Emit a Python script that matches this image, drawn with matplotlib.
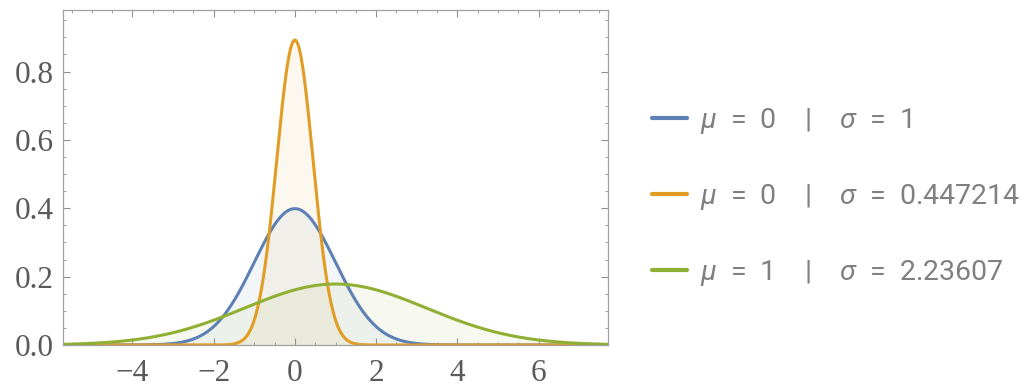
import numpy as np
import matplotlib.pyplot as plt
from matplotlib.ticker import MultipleLocator

# distribution parameters as given in the legend
mus = [0, 0, 1]
sigmas = [1, 0.447214, 2.23607]
labels = [r"$\mu$  =  0    |    $\sigma$  =  1",
          r"$\mu$  =  0    |    $\sigma$  =  0.447214",
          r"$\mu$  =  1    |    $\sigma$  =  2.23607"]
colors = ["#5E81B5", "#E19C24", "#8FB032"]

xmin, xmax = -5.71, 7.71
xticks = [-4, -2, 0, 2, 4, 6]
yticks = [0.0, 0.2, 0.4, 0.6, 0.8]

plt.rcParams['mathtext.fontset'] = 'custom'
plt.rcParams['mathtext.rm'] = 'Roboto'
plt.rcParams['mathtext.it'] = 'Roboto:italic'

fig = plt.figure(figsize=(10.24, 3.92), dpi=100)
ax = fig.add_axes([63 / 1024, 47 / 392, 545 / 1024, 335 / 392])

x = np.linspace(xmin, xmax, 1200)
for mu, s, c, lab in zip(mus, sigmas, colors, labels):
    y = np.exp(-0.5 * ((x - mu) / s) ** 2) / (s * np.sqrt(2 * np.pi))
    ax.fill_between(x, 0, y, color=c, alpha=0.07, lw=0)
    ax.plot(x, y, color=c, lw=2.2, label=lab, solid_capstyle='round')

ax.set_xlim(xmin, xmax)
ax.set_ylim(0, 0.98)
ax.set_xticks(xticks)
ax.set_yticks(yticks)
ax.set_yticklabels(["0.0", "0.2", "0.4", "0.6", "0.8"])
ax.set_xticklabels(["\u22124", "\u22122", "0", "2", "4", "6"])
ax.xaxis.set_minor_locator(MultipleLocator(0.5))
ax.yaxis.set_minor_locator(MultipleLocator(0.05))

for sp in ax.spines.values():
    sp.set_color("#a0a0a0")
    sp.set_linewidth(0.9)
ax.tick_params(which='both', direction='in', top=True, right=True, color="#909090")
ax.tick_params(which='major', length=5, width=0.8, labelsize=22.5, labelcolor="#5a5a5a")
ax.tick_params(axis='x', which='major', pad=10)
ax.tick_params(axis='y', which='major', pad=7)
ax.tick_params(which='minor', length=2.5, width=0.6)
for t in ax.get_xticklabels() + ax.get_yticklabels():
    t.set_family("Liberation Serif")

leg = ax.legend(loc='center left', bbox_to_anchor=(652 / 1024, 195 / 392),
                bbox_transform=fig.transFigure, frameon=False, fontsize=20.5,
                labelspacing=1.6, handlelength=1.23, handletextpad=0.45,
                borderpad=0, borderaxespad=0)
for t in leg.get_texts():
    t.set_color("#808080")
    t.set_family("Roboto")
for h in leg.get_lines():
    h.set_linewidth(3)

fig.savefig("out.png", dpi=100)
